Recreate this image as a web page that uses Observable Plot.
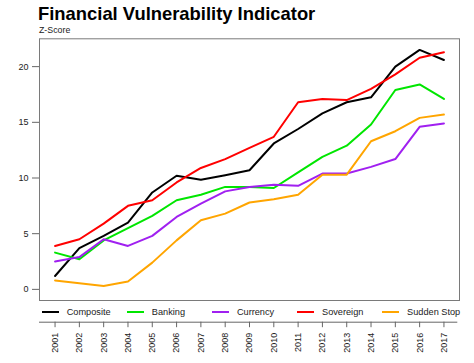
<!DOCTYPE html>
<html>
<head>
<meta charset="utf-8">
<script src="https://cdn.jsdelivr.net/npm/d3@7"></script>
<script src="https://cdn.jsdelivr.net/npm/@observablehq/plot@0.6"></script>
<style>
  html, body { margin: 0; padding: 0; background: #fff; }
  body { width: 474px; height: 363px; overflow: hidden; font-family: "Liberation Sans", Arial, sans-serif; }
  #header { position: relative; height: 34px; }
  #title { position: absolute; left: 38px; top: 4px; font-size: 18.4px; font-weight: bold; color: #000; line-height: 20px; white-space: nowrap; }
  #subtitle { position: absolute; left: 39px; top: 25px; font-size: 8.8px; color: #222; line-height: 10px; }
  #legend { position: relative; height: 15px; }
  .item { position: absolute; top: 0; height: 15px; display: flex; align-items: center; font-size: 9.2px; color: #222; white-space: nowrap; }
  .sw { width: 17px; height: 0; border-top: 2px solid; margin-right: 8px; }
  svg { display: block; }
</style>
</head>
<body>
<div id="header"><div id="title">Financial Vulnerability Indicator</div><div id="subtitle">Z-Score</div></div>
<div id="chart"></div>
<div id="legend"></div>
<div id="xaxis"></div>
<script>
const years = [2001,2002,2003,2004,2005,2006,2007,2008,2009,2010,2011,2012,2013,2014,2015,2016,2017];
const seriesNames = ["Composite","Banking","Currency","Sovereign","Sudden Stop"];
const seriesColors = ["#000000","#00e600","#a020f0","#ff0000","#ffa500"];
const composite = [1.2,3.7,4.8,6.0,8.7,10.2,9.85,10.25,10.7,13.1,14.4,15.8,16.8,17.25,20.0,21.5,20.6];
const banking   = [3.3,2.7,4.4,5.5,6.6,8.0,8.5,9.2,9.2,9.1,10.5,11.9,12.9,14.8,17.9,18.4,17.1];
const currency  = [2.5,2.9,4.5,3.9,4.8,6.5,7.7,8.8,9.2,9.4,9.3,10.4,10.4,11.0,11.7,14.6,14.9];
const sovereign = [3.9,4.5,5.9,7.5,8.0,9.6,10.9,11.7,12.7,13.7,16.8,17.1,17.0,18.0,19.3,20.8,21.3];
const suddenStop= [0.8,0.55,0.3,0.7,2.4,4.4,6.2,6.8,7.8,8.1,8.5,10.3,10.3,13.3,14.2,15.4,15.7];
const yTicks = [0,5,10,15,20];

const seriesValues = [composite, banking, currency, sovereign, suddenStop];
const data = [];
seriesNames.forEach((s, i) => years.forEach((yr, j) => data.push({series: s, year: yr, value: seriesValues[i][j]})));

const xDomain = [2000.36, 2017.64];
const common = {width: 474, marginLeft: 39, marginRight: 15};

const main = Plot.plot({
  ...common,
  height: 270,
  marginTop: 4.3,
  marginBottom: 4,
  style: {fontFamily: "Liberation Sans, Arial, sans-serif", fontSize: "9px", color: "#222", background: "#fff"},
  x: {domain: xDomain, axis: null},
  y: {domain: [-1, 22.5], axis: null},
  color: {domain: seriesNames, range: seriesColors},
  marks: [
    Plot.frame({stroke: "#7a7a7a", strokeWidth: 1}),
    Plot.axisY({ticks: yTicks, tickSize: 7, tickPadding: 4, stroke: "#666", fill: "#222", label: null, fontSize: 9}),
    Plot.line(data, {x: "year", y: "value", z: "series", stroke: "series", strokeWidth: 2})
  ]
});
document.getElementById("chart").appendChild(main);

const legend = d3.select("#legend");
seriesNames.forEach((s, i) => {
  const it = legend.append("div").attr("class", "item").style("left", (41.7 + i * 85.1) + "px");
  it.append("div").attr("class", "sw").style("border-top-color", seriesColors[i]);
  it.append("span").text(s);
});

const xax = Plot.plot({
  ...common,
  height: 44,
  marginTop: 2.7,
  marginBottom: 41.3,
  style: {fontFamily: "Liberation Sans, Arial, sans-serif", fontSize: "9px", color: "#222", background: "#fff"},
  x: {domain: xDomain, axis: null},
  y: {domain: [0, 1], axis: null},
  marks: [
    Plot.ruleY([0], {stroke: "#666", x1: xDomain[0], x2: xDomain[1] - 0.07}),
    Plot.axisX({anchor: "bottom", ticks: years, tickFormat: d => String(d), tickRotate: -90, tickSize: 5.5, tickPadding: 5, stroke: "#666", fill: "#222", label: null, fontSize: 9})
  ]
});
document.getElementById("xaxis").appendChild(xax);
</script>
</body>
</html>
